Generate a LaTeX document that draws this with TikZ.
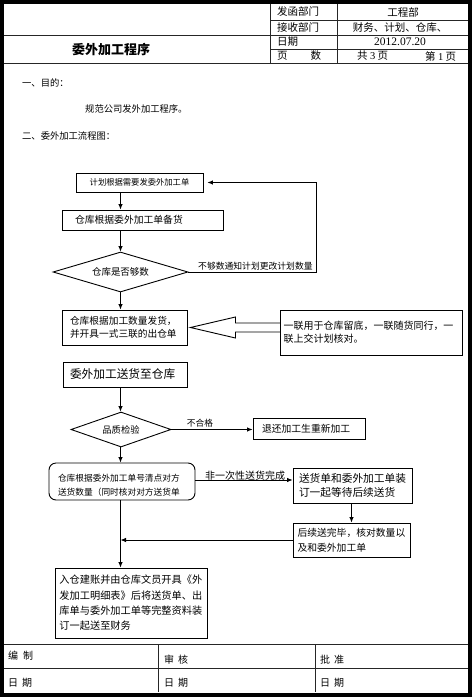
\documentclass[tikz,border=0pt]{standalone}
\usepackage{fontspec}
\setmainfont{Noto Sans CJK SC}
\newfontfamily\numfont{Liberation Serif}
\usetikzlibrary{positioning,arrows.meta,shapes.geometric}
\newcommand\setfs[2]{\fontsize{#1}{#2}\selectfont}

\begin{document}
\begin{tikzpicture}[
    x=1pt, y=-1pt,
    frame/.style={line width=4pt},
    rule/.style={line width=0.8pt, black!85},
    cell/.style={anchor=west, inner sep=0pt, font=\setfs{10.5}{12}},
    txt/.style={anchor=west, inner sep=0pt, font=\setfs{9.3}{11}},
    box/.style={draw, line width=0.9pt, align=left, inner ysep=2pt},
    dia/.style={draw, line width=0.9pt, diamond, inner sep=0pt},
    lbl/.style={inner sep=0pt},
    arr/.style={-{Latex[length=5.5pt,width=4.5pt]}, line width=0.8pt},
    hollow/.style={line width=0.9pt, line join=miter}
  ]
    \useasboundingbox (0,0) rectangle (474,697);

    % header table
    \draw[rule] (270,20) -- (470,20) (2,35) -- (470,35) (270,49) -- (470,49) (2,63) -- (470,63);
    \draw[rule] (270,2) -- (270,63) (337,2) -- (337,63);
    \node[font=\setfs{13}{15}\bfseries, inner sep=0pt] (title) at (111,50) {委外加工程序};
    \node[cell] (k1) at (277,12)   {发函部门};
    \node[cell] (k2) at (277,27.5) {接收部门};
    \node[cell] (k3) at (277,42)   {日期};
    \node[cell] (k4) at (277,56)   {页\hspace{23pt}数};
    \node[cell, anchor=center] (v1) at (403,12)   {工程部};
    \node[cell, anchor=center] (v2) at (400,27.5) {财务、计划、仓库、};
    \node[cell, anchor=center, font=\numfont\setfs{11.5}{12}] (v3) at (400,42) {2012.07.20};
    \node[cell] (v4) at (357,56) {共 {\numfont 3} 页};
    \node[cell] (v5) at (425,56) {第 {\numfont 1} 页};

    % section text
    \node[txt] (s1) at (22,83)    {一、目的：};
    \node[txt] (s2) at (85,109)   {规范公司发外加工程序。};
    \node[txt] (s3) at (22,135.5) {二、委外加工流程图：};

    % flow chart
    \node[box, align=center, minimum width=127, minimum height=19, font=\setfs{8.3}{10}] (b1) at (139.5,182.5) {计划根据需要发委外加工单};
    \node[box, text width=135, inner xsep=13, minimum height=20, font=\setfs{9.8}{12}] (b2) at (142.5,220) {仓库根据委外加工单备货};
    \node[dia, aspect=3.375, minimum width=135, minimum height=40, font=\setfs{9.5}{11}] (d1) at (120.5,272) {仓库是否够数};
    \coordinate (fb) at (316,272);
    \node[lbl, anchor=west, font=\setfs{8.8}{10}] (l1) at (198,266) {不够数通知计划更改计划数量};
    \node[box, text width=109, inner xsep=8, minimum height=35, font=\setfs{9.7}{13.5}] (b3) at (124.5,327.5) {仓库根据加工数量发货，\\并开具一式三联的出仓单};
    \node[box, text width=175, inner xsep=3.5, minimum height=45, font=\setfs{10}{13}] (b4) at (371,332.5) {一联用于仓库留底，一联随货同行，一\\联上交计划核对。};

    \node[box, text width=110, inner xsep=7, minimum height=25, font=\setfs{11.7}{13}] (b5) at (125,374.5) {委外加工送货至仓库};
    \node[dia, aspect=2.86, minimum width=100, minimum height=35, font=\setfs{9.3}{11}] (d2) at (121,429.5) {品质检验};
    \node[lbl, font=\setfs{8.7}{10}] (l2) at (200,423) {不合格};
    \node[box, text width=94, inner xsep=9, minimum height=21, font=\setfs{9.8}{12}] (b6) at (309,428.5) {退还加工生重新加工};

    \node[box, rounded corners=7pt, text width=128, inner xsep=9, minimum height=37, font=\setfs{8.7}{14.3}] (b7) at (122,481.5) {\hspace{7pt}仓库根据委外加工单号清点对方\\送货数量（同时核对对方送货单};
    \node[lbl, font=\setfs{10}{12}] (l3) at (245,476) {非一次性送货完成};
    \node[box, text width=107, inner xsep=6, minimum height=35, font=\setfs{10.7}{14.5}] (b8) at (352.5,485.5) {送货单和委外加工单装\\订一起等待后续送货};
    \node[box, text width=108, inner xsep=4.5, minimum height=34, font=\setfs{9.8}{15.5}] (b9) at (351.5,540) {后续送完毕，核对数量以\\及和委外加工单};
    \node[box, text width=143, inner xsep=4.5, minimum height=70, font=\setfs{10.2}{15.3}] (b10) at (131,603) {入仓建账并由仓库文员开具《外\\发加工明细表》后将送货单、出\\库单与委外加工单等完整资料装\\订一起送至财务};

    \foreach \a/\b in {b1/b2, b2/d1, d1/b3, b5/d2, d2/b7, b7/b10} \draw[arr] (\a.south -| d1.north) -- (\b.north -| d1.north);
    \draw[arr, shorten >=4pt] (d1.east) -- (fb) |- (b1.east);
    \draw[arr] (d2.east) -- (d2.east -| b6.west);
    \draw[arr] ([yshift=1.5pt]b7.east) -- ([yshift=1.5pt]b7.east -| b8.west);
    \draw[arr] (b8.south -| b9.north) -- (b9.north);
    \draw[arr] (b9.west) -- (b9.west -| d1.north);
    \draw[hollow] ([xshift=3pt]b3.east) -- ++(45,-10.5) -- ++(0,6) -- ++(45,0) -- ++(0,9) -- ++(-45,0) -- ++(0,6) -- cycle;

    % footer table
    \draw[rule] (2,644) -- (470,644) (2,668) -- (470,668) (158,644) -- (158,692) (315,644) -- (315,692);
    \node[cell, font=\setfs{10}{12}] (f1) at (8,656)   {编\hspace{5pt}制};
    \node[cell, font=\setfs{10}{12}] (f2) at (164,660) {审\hspace{4pt}核};
    \node[cell, font=\setfs{10}{12}] (f3) at (320,660) {批\hspace{4pt}准};
    \node[cell, font=\setfs{10}{12}] (f4) at (8,683)   {日\hspace{4pt}期};
    \node[cell, font=\setfs{10}{12}] (f5) at (164,683) {日\hspace{4pt}期};
    \node[cell, font=\setfs{10}{12}] (f6) at (320,683) {日\hspace{4pt}期};

    \draw[frame] (2,2) rectangle (470,695);
  \end{tikzpicture}
\end{document}
